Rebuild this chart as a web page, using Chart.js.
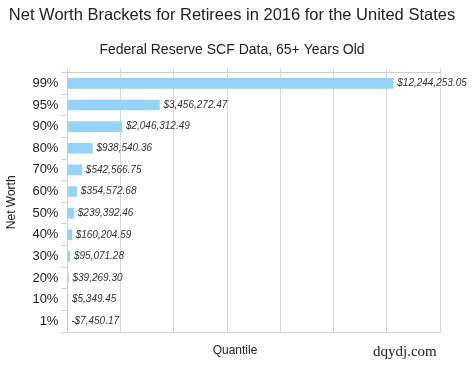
<!DOCTYPE html>
<html>
<head>
<meta charset="utf-8">
<script src="https://cdn.jsdelivr.net/npm/chart.js@4"></script>
<style>
  body { margin: 0; background: #fff; }
  #wrap { position: relative; width: 474px; height: 365px; }
  .note { position: absolute; color: #222; white-space: nowrap; }
  #quantile { left: 0; width: 474px; text-align: center; top: 343px; font: 12px "Liberation Sans", Arial, sans-serif; transform: translateX(-2px); }
  #site { left: 373px; top: 343px; font: 15px "Liberation Serif", "Times New Roman", serif; }
</style>
</head>
<body>
<div id="wrap">
  <canvas id="worthChart" width="474" height="365"></canvas>
  <div class="note" id="quantile">Quantile</div>
  <div class="note" id="site">dqydj.com</div>
</div>
<script>
const brackets = ['99%', '95%', '90%', '80%', '70%', '60%', '50%', '40%', '30%', '20%', '10%', '1%'];
const netWorth = [12244253.05, 3456272.47, 2046312.49, 938540.36, 542566.75, 354572.68,
                  239392.46, 160204.59, 95071.28, 39269.30, 5349.45, -7450.17];
const xMax = 14000000;
const xStep = 2000000;

function money(v) {
  const s = Math.abs(v).toLocaleString('en-US', {minimumFractionDigits: 2, maximumFractionDigits: 2});
  return (v < 0 ? '-$' : '$') + s;
}

// writes the dollar amount just past the end of every bar
const valueLabels = {
  id: 'valueLabels',
  afterDatasetsDraw(chart) {
    const c = chart.ctx;
    const meta = chart.getDatasetMeta(0);
    c.save();
    c.font = 'italic 10px "Liberation Sans", Arial, sans-serif';
    c.fillStyle = '#333';
    c.textBaseline = 'middle';
    meta.data.forEach((bar, i) => {
      const end = Math.max(bar.x, bar.base);
      c.fillText(money(netWorth[i]), end + 4, bar.y);
    });
    c.restore();
  }
};

const ctx = document.getElementById('worthChart').getContext('2d');
const chart = new Chart(ctx, {
  type: 'bar',
  data: {
    labels: brackets,
    datasets: [{
      label: 'Net Worth',
      data: netWorth,
      backgroundColor: '#94d3fa',
      barThickness: 10
    }]
  },
  plugins: [valueLabels],
  options: {
    indexAxis: 'y',
    responsive: false,
    animation: false,
    layout: { padding: { left: 0, right: 10, top: 0, bottom: 33 } },
    plugins: {
      legend: { display: false },
      tooltip: { enabled: false },
      title: {
        display: true,
        text: 'Net Worth Brackets for Retirees in 2016 for the United States',
        color: '#222',
        font: { family: '"Liberation Sans", Arial, sans-serif', size: 16.5, weight: 'normal' },
        padding: { top: 6, bottom: 10 }
      },
      subtitle: {
        display: true,
        text: 'Federal Reserve SCF Data, 65+ Years Old',
        color: '#222',
        font: { family: '"Liberation Sans", Arial, sans-serif', size: 14 },
        padding: { top: 6, bottom: 10 }
      }
    },
    scales: {
      x: {
        position: 'top',
        min: 0,
        max: xMax,
        ticks: { display: false, stepSize: xStep },
        grid: { color: '#d9d9d9', tickLength: 4 },
        border: { color: '#cfcfcf' }
      },
      x2: {
        type: 'linear',
        position: 'bottom',
        ticks: { display: false },
        grid: { display: false, drawTicks: false },
        border: { color: '#cfcfcf' }
      },
      y: {
        ticks: {
          color: '#222',
          padding: 3,
          font: { family: '"Liberation Sans", Arial, sans-serif', size: 13 }
        },
        grid: { drawOnChartArea: false, tickLength: 6, color: '#cfcfcf' },
        border: { color: '#cfcfcf' },
        title: {
          display: true,
          text: 'Net Worth',
          color: '#222',
          font: { family: '"Liberation Sans", Arial, sans-serif', size: 12 },
          padding: { top: 4, bottom: 11 }
        }
      },
      // empty strip on the right that leaves room for the largest amount
      yRoom: {
        type: 'linear',
        position: 'right',
        ticks: { display: false },
        grid: { display: false, drawTicks: false },
        border: { display: false },
        afterFit(scale) { scale.width = 24; }
      }
    }
  }
});
</script>
</body>
</html>
